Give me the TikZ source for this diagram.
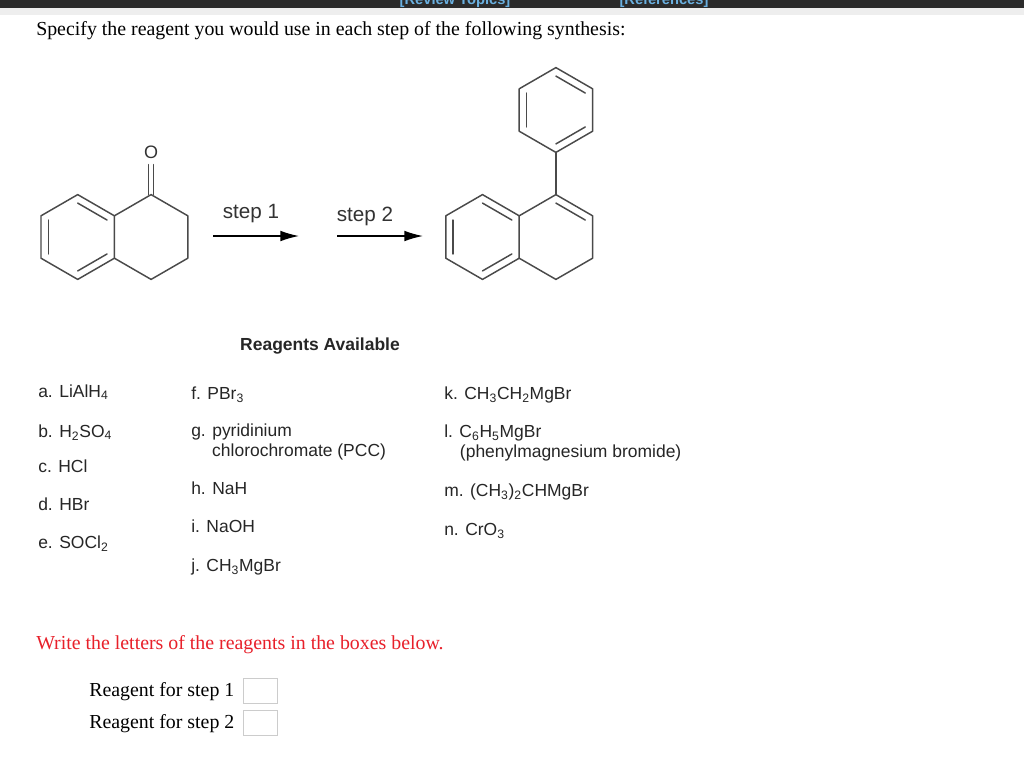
\documentclass[tikz,border=0pt]{standalone}
\usepackage{fontspec}
\setmainfont{Liberation Serif}
\setsansfont{Liberation Sans}
\usetikzlibrary{arrows.meta,calc}
\definecolor{bond}{HTML}{4A4A4A}
\definecolor{barbg}{HTML}{2B2B2B}
\definecolor{barlight}{HTML}{EEEEEE}
\definecolor{linkblue}{HTML}{6AB0E0}
\definecolor{redtxt}{HTML}{E8202A}
\newcommand{\sbs}[1]{\textsubscript{#1}}
\tikzset{
  bondline/.style={draw=bond,line width=1.1pt,line cap=round,line join=round},
  serif/.style={font=\fontsize{14.9}{17}\selectfont,anchor=base west,inner sep=0pt},
  reag/.style={font=\sffamily\fontsize{13.1}{14.3}\selectfont,anchor=base west,inner sep=0pt,align=left,text=black!85},
  stepl/.style={font=\sffamily\fontsize{15.5}{17}\selectfont,inner sep=0pt,text=black!80},
  rxarrow/.style={draw=black,line width=1pt,-{Latex[length=14pt,width=8pt]}},
  ansbox/.style={draw=black!20,line width=0.6pt,fill=white},
}
\newcommand{\hexring}[3]{%
  \coordinate (#3c) at (#1,#2);
  \coordinate (#3a) at (#1,#2-42.4);
  \coordinate (#3b) at (#1+36.7,#2-21.2);
  \coordinate (#3d) at (#1+36.7,#2+21.2);
  \coordinate (#3e) at (#1,#2+42.4);
  \coordinate (#3f) at (#1-36.7,#2+21.2);
  \coordinate (#3g) at (#1-36.7,#2-21.2);
}
\newcommand{\innerdb}[3]{%
  \draw[bondline] ($(#1c)!0.8!(#1#2)$) -- ($(#1c)!0.8!(#1#3)$);
}
\begin{document}
\begin{tikzpicture}[x=0.75pt,y=-0.75pt]
\useasboundingbox (0,0) rectangle (1024,758);
\fill[white] (0,0) rectangle (1024,758);
% top bar
\fill[barbg] (0,0) rectangle (1024,8);
\fill[barlight] (0,8) rectangle (1024,15);
\begin{scope}
\clip (0,0) rectangle (1024,8);
\node[font=\sffamily\bfseries\fontsize{11}{12}\selectfont,text=linkblue,inner sep=0pt] (rt) at (455,1) {[Review Topics]};
\node[font=\sffamily\bfseries\fontsize{11}{12}\selectfont,text=linkblue,inner sep=0pt] (rf) at (664,1) {[References]};
\end{scope}
\node[serif] (title) at (36,35) {Specify the reagent you would use in each step of the following synthesis:};
% starting material
\hexring{77.7}{237}{L}
\hexring{151.1}{237}{M}
\draw[bondline] (La)--(Lb)--(Ld)--(Le)--(Lf)--(Lg)--cycle;
\draw[bondline] (Lb)--(Ma)--(Mb)--(Md)--(Me)--(Ld);
\innerdb{L}{f}{g}
\innerdb{L}{a}{b}
\innerdb{L}{d}{e}
\draw[bondline] ($(Ma)+(-2.6,0)$) -- ++(0,-30);
\draw[bondline] ($(Ma)+(2.6,0)$) -- ++(0,-30);
\node[font=\sffamily\fontsize{13.5}{14}\selectfont,text=black!80,inner sep=0pt] (O) at (151,152) {O};
% arrows
\coordinate (a1s) at (213,236); \coordinate (a1e) at (299,236);
\coordinate (a2s) at (337,236); \coordinate (a2e) at (423,236);
\draw[rxarrow] (a1s) -- (a1e);
\draw[rxarrow] (a2s) -- (a2e);
\node[stepl] (s1) at (251,214) {step 1};
\node[stepl] (s2) at (365,216) {step 2};
% product
\hexring{482.5}{237}{P}
\hexring{555.9}{237}{Q}
\hexring{555.9}{110}{R}
\draw[bondline] (Pa)--(Pb)--(Pd)--(Pe)--(Pf)--(Pg)--cycle;
\draw[bondline] (Pb)--(Qa)--(Qb)--(Qd)--(Qe)--(Pd);
\innerdb{P}{f}{g}
\innerdb{P}{a}{b}
\innerdb{P}{d}{e}
\innerdb{Q}{a}{b}
\draw[bondline] (Ra)--(Rb)--(Rd)--(Re)--(Rf)--(Rg)--cycle;
\innerdb{R}{f}{g}
\innerdb{R}{a}{b}
\innerdb{R}{d}{e}
\draw[bondline] (Re) -- (Qa);
% reagents
\node[font=\sffamily\bfseries\fontsize{13.1}{14}\selectfont,text=black!85,inner sep=0pt] (ra) at (320,346) {Reagents Available};
\node[reag] (ia) at (38,397) {a. LiAlH\sbs{4}};
\node[reag] (ib) at (38,437) {b. H\sbs{2}SO\sbs{4}};
\node[reag] (ic) at (38,472) {c. HCl};
\node[reag] (id) at (38,510) {d. HBr};
\node[reag] (ie) at (38,548) {e. SOCl\sbs{2}};
\node[reag] (jf) at (191,399) {f. PBr\sbs{3}};
\node[reag] (jg) at (191,456) {g. pyridinium\\\hspace*{1.2em}chlorochromate (PCC)};
\node[reag] (jh) at (191,494) {h. NaH};
\node[reag] (ji) at (191,532) {i. NaOH};
\node[reag] (jj) at (191,571) {j. CH\sbs{3}MgBr};
\node[reag] (kk) at (444,399) {k. CH\sbs{3}CH\sbs{2}MgBr};
\node[reag] (kl) at (444,457) {l. C\sbs{6}H\sbs{5}MgBr\\\hspace*{0.9em}(phenylmagnesium bromide)};
\node[reag] (km) at (444,496) {m. (CH\sbs{3})\sbs{2}CHMgBr};
\node[reag] (kn) at (444,535) {n. CrO\sbs{3}};
% answer section
\node[serif,text=redtxt] (wr) at (36,649) {Write the letters of the reagents in the boxes below.};
\node[serif] (r1) at (89,696) {Reagent for step 1};
\node[serif] (r2) at (89,728) {Reagent for step 2};
\draw[ansbox] (243,678) rectangle (277,703);
\draw[ansbox] (243,710) rectangle (277,735);
\end{tikzpicture}
\end{document}
